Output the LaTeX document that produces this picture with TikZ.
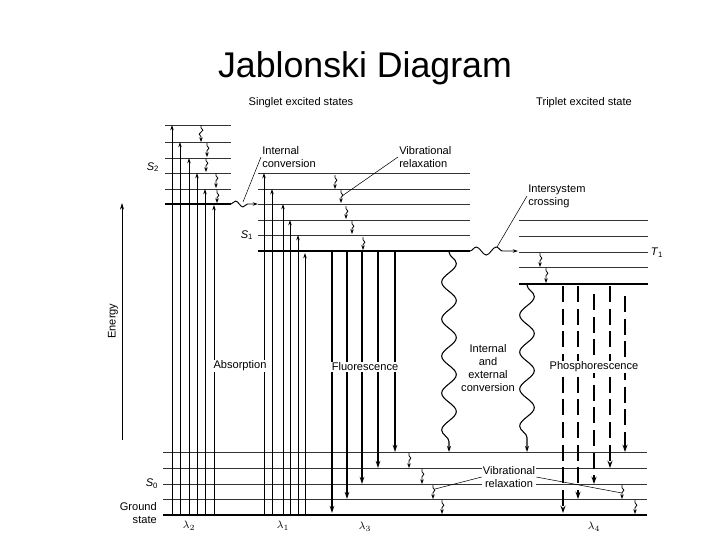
\documentclass[tikz,border=0pt]{standalone}
\usepackage{amssymb, mathtools, amsmath}
\usepackage{fontspec}
\setmainfont{Liberation Sans}
\usetikzlibrary{arrows.meta, decorations.pathmorphing}

\begin{document}
\begin{tikzpicture}[x=0.75pt,y=0.75pt,yscale=-1,
  level/.style={draw=black!80, line width=0.5pt},
  lowest/.style={line width=2.2pt},
  absorb/.style={line width=0.5pt, -{Stealth[length=4pt,width=2.6pt]}},
  fluor/.style={line width=1.1pt, -{Stealth[length=5.5pt,width=3.6pt]}},
  phos/.style={line width=1.4pt, dash pattern=on 12pt off 5pt, -{Stealth[length=5.5pt,width=3.8pt]}},
  relax/.style={line width=0.6pt, decorate, decoration={snake, amplitude=1.4pt, segment length=6pt, pre length=2pt, post length=3.5pt}, -{Stealth[length=3.5pt,width=2.6pt]}},
  conv/.style={line width=0.8pt, decorate, decoration={snake, amplitude=5.5pt, segment length=27.75pt, post length=5pt}, -{Stealth[length=4.5pt,width=3pt]}},
  icwave/.style={line width=0.7pt, decorate, decoration={snake, amplitude=2.2pt, segment length=11pt, post length=7pt}, -{Stealth[length=4pt,width=2.6pt]}},
  iscwave/.style={line width=0.7pt, decorate, decoration={snake, amplitude=3pt, segment length=15pt, post length=6pt}, -{Stealth[length=4pt,width=2.6pt]}},
  leader/.style={line width=0.4pt},
  lbl/.style={inner sep=0.75pt, font=\fontsize{8.3}{9.8}\selectfont},
]
\useasboundingbox (0,0) rectangle (720,540);

%Straight Lines S2 levels
\draw [level]   (165,125) -- (231,125) ;
\draw [level]   (165,142) -- (231,142) ;
\draw [level]   (165,158) -- (231,158) ;
\draw [level]   (165,173) -- (231,173) ;
\draw [level]   (165,189) -- (231,189) ;
\draw [lowest]  (165,204) -- (231,204) ;
%Straight Lines S1 levels
\draw [level]   (258,173) -- (470,173) ;
\draw [level]   (258,189) -- (470,189) ;
\draw [level]   (258,204) -- (470,204) ;
\draw [level]   (258,220) -- (470,220) ;
\draw [level]   (258,235) -- (470,235) ;
\draw [lowest]  (258,251) -- (470,251) ;
%Straight Lines T1 levels
\draw [level]   (519,220) -- (648,220) ;
\draw [level]   (519,236) -- (648,236) ;
\draw [level]   (519,252) -- (648,252) ;
\draw [level]   (519,267) -- (648,267) ;
\draw [lowest]  (519,284) -- (648,284) ;
%Straight Lines S0 levels
\draw [level]   (163,452) -- (647,452) ;
\draw [level]   (163,468) -- (647,468) ;
\draw [level]   (163,484) -- (647,484) ;
\draw [level]   (163,499) -- (647,499) ;
\draw [lowest]  (163,515) -- (647,515) ;

%Straight Lines absorption lambda 2
\draw [absorb]  (172,514) -- (172,125) ;
\draw [absorb]  (180,514) -- (180,142) ;
\draw [absorb]  (189,514) -- (189,158) ;
\draw [absorb]  (197,514) -- (197,173) ;
\draw [absorb]  (205,514) -- (205,189) ;
\draw [absorb]  (214,514) -- (214,205) ;
%Straight Lines absorption lambda 1
\draw [absorb]  (264,514) -- (264,173) ;
\draw [absorb]  (272,514) -- (272,189) ;
\draw [absorb]  (283,514) -- (283,204) ;
\draw [absorb]  (290,514) -- (290,220) ;
\draw [absorb]  (298,514) -- (298,235) ;
\draw [absorb]  (305,514) -- (305,253) ;
%Straight Lines fluorescence
\draw [fluor]   (332,252) -- (332,513) ;
\draw [fluor]   (347,252) -- (347,499) ;
\draw [fluor]   (362,252) -- (362,484) ;
\draw [fluor]   (378,252) -- (378,468) ;
\draw [fluor]   (395,252) -- (395,452) ;
%Straight Lines phosphorescence
\draw [phos]    (563,286) -- (563,513) ;
\draw [phos]    (578,286) -- (578,499) ;
\draw [phos]    (594,294) -- (594,484) ;
\draw [phos]    (610,286) -- (610,468) ;
\draw [phos]    (625,296) -- (625,452) ;

%Curve Lines vibrational relaxation
\draw [relax]   (201,125) -- (201,142) ;
\draw [relax]   (207,143) -- (207,157) ;
\draw [relax]   (206,158) -- (206,172) ;
\draw [relax]   (216,173) -- (216,188) ;
\draw [relax]   (217,190) -- (217,203) ;
\draw [relax]   (335,175) -- (335,189) ;
\draw [relax]   (341,190) -- (341,203) ;
\draw [relax]   (346,206) -- (346,219) ;
\draw [relax]   (352,221) -- (352,234) ;
\draw [relax]   (363,237) -- (363,250) ;
\draw [relax]   (540,253) -- (540,267) ;
\draw [relax]   (546,268) -- (546,283) ;
\draw [relax]   (409,453) -- (409,468) ;
\draw [relax]   (422,469) -- (422,484) ;
\draw [relax]   (433,485) -- (433,499) ;
\draw [relax]   (442,500) -- (442,514) ;
\draw [relax]   (622,485) -- (622,499) ;
\draw [relax]   (635,500) -- (635,514) ;
%Curve Lines conversions and crossing
\draw [icwave]  (231,204) -- (258,204) ;
\draw [iscwave] (470,251) -- (518,251) ;
\draw [conv]    (449,252) -- (449,452) ;
\draw [conv]    (527,285) -- (527,452) ;

%Straight Lines energy axis
\draw [line width=0.5pt, -{Stealth[length=5pt,width=3pt]}]   (122,440) -- (122,203) ;

% Text Node
\draw (365,77.5) node [anchor=base][inner sep=0.75pt, font=\fontsize{26.8}{30}\selectfont] (title) {Jablonski Diagram};
% Text Node
\draw (301,105) node [anchor=base][lbl] (singlet) {Singlet excited states};
% Text Node
\draw (584,105) node [anchor=base][lbl] (triplet) {Triplet excited state};
% Text Node
\draw (261,157) node [anchor=west][lbl, align=left] (intconv) {Internal\\conversion};
% Text Node
\draw (398,157) node [anchor=west][lbl, align=left] (vibtop) {Vibrational\\relaxation};
% Text Node
\draw (527,196) node [anchor=west][lbl, align=left] (isc) {Intersystem\\crossing};
% Text Node
\draw (240,366) node [lbl, fill=white] (absorption) {Absorption};
% Text Node
\draw (365,367) node [lbl, fill=white] (fluorescence) {Fluorescence};
% Text Node
\draw (488,368) node [lbl, align=center] (extconv) {Internal\\and\\external\\conversion};
% Text Node
\draw (594,367) node [lbl, fill=white] (phosphorescence) {Phosphorescence};
% Text Node
\draw (509,477) node [lbl, align=center, fill=white] (vibbot) {Vibrational\\relaxation};
% Text Node
\draw (113,321) node [lbl, rotate=90] (energy) {Energy};
% Text Node
\draw (158,513) node [anchor=east][lbl, align=right] (groundstate) {Ground\\state};
% Text Node
\draw (153,167) node [lbl] (stwo) {\textit{S}\textsubscript{2}};
\draw (247,235) node [lbl] (sone) {\textit{S}\textsubscript{1}};
\draw (152,484) node [lbl] (szero) {\textit{S}\textsubscript{0}};
\draw (657,253) node [lbl] (tone) {\textit{T}\textsubscript{1}};
% Text Node
\draw (189,526) node [lbl] (ltwo) {$\lambda_2$};
\draw (283,526) node [lbl] (lone) {$\lambda_1$};
\draw (365,527) node [lbl] (lthree) {$\lambda_3$};
\draw (594,527) node [lbl] (lfour) {$\lambda_4$};

%Straight Lines leaders
\coordinate (icend) at (243,202);
\coordinate (vrtop) at (342,196);
\coordinate (iscend) at (497,247);
\coordinate (vrleft) at (435,489);
\coordinate (vrright) at (622,493);
\draw [leader]  (intconv.west) -- (icend) ;
\draw [leader]  (vibtop.west) -- (vrtop) ;
\draw [leader]  (isc.west) -- (iscend) ;
\draw [leader]  (vibbot.west) -- (vrleft) ;
\draw [leader]  (vibbot.east) -- (vrright) ;

\end{tikzpicture}
\end{document}
